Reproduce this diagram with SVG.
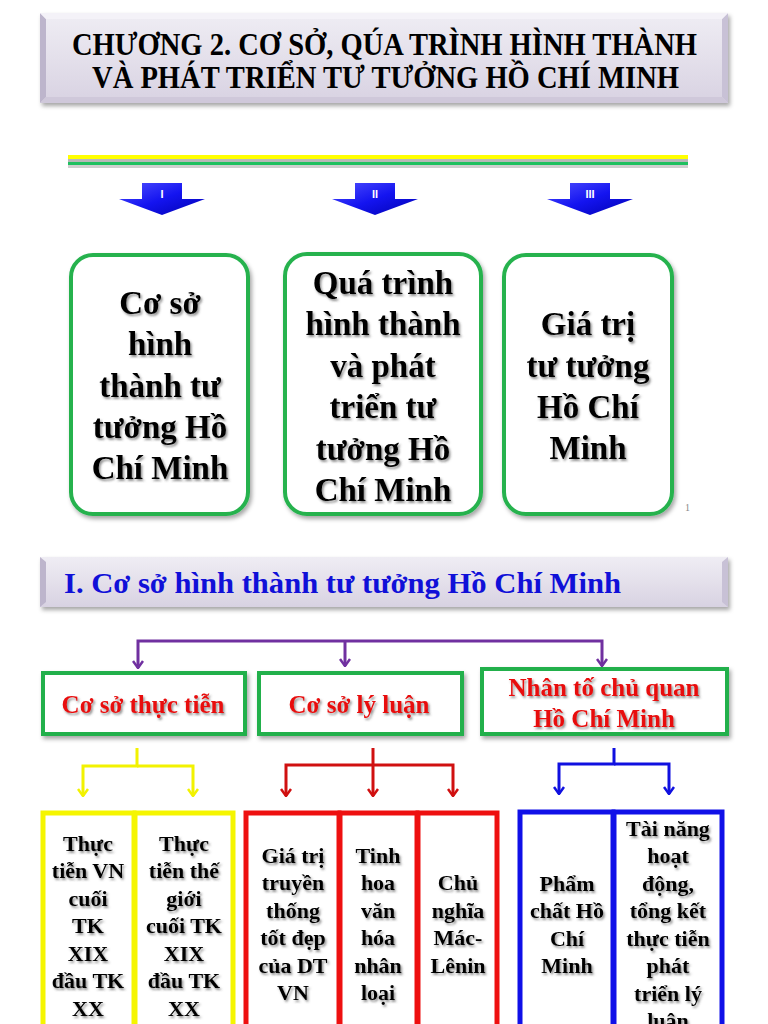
<svg xmlns="http://www.w3.org/2000/svg" width="768" height="1024" viewBox="0 0 768 1024">
<defs>
<linearGradient id="banner" x1="0" y1="0" x2="0" y2="1">
<stop offset="0" stop-color="#efedf4"/><stop offset="0.5" stop-color="#e4e0eb"/><stop offset="1" stop-color="#d8d2e2"/>
</linearGradient>
<linearGradient id="blueArrow" x1="0" y1="0" x2="1" y2="1">
<stop offset="0" stop-color="#5050ff"/><stop offset="0.5" stop-color="#1414f0"/><stop offset="1" stop-color="#0000b0"/>
</linearGradient>
<filter id="shadow" x="-10%" y="-10%" width="130%" height="130%">
<feDropShadow dx="2" dy="3" stdDeviation="2" flood-color="#000" flood-opacity="0.35"/>
</filter>
<filter id="tshadow" x="-10%" y="-10%" width="130%" height="130%">
<feDropShadow dx="1.5" dy="2" stdDeviation="1.2" flood-color="#444" flood-opacity="0.6"/>
</filter>
<marker id="mPurple" viewBox="0 0 12 12" refX="11" refY="6" markerWidth="12" markerHeight="12" markerUnits="userSpaceOnUse" orient="auto-start-reverse">
<path d="M4,1 L11,6 L4,11" fill="none" stroke="#7030a0" stroke-width="2.5"/>
</marker>
<marker id="mYellow" viewBox="0 0 12 12" refX="11" refY="6" markerWidth="12" markerHeight="12" markerUnits="userSpaceOnUse" orient="auto">
<path d="M4,1 L11,6 L4,11" fill="none" stroke="#f2f200" stroke-width="2.5"/>
</marker>
<marker id="mRed" viewBox="0 0 12 12" refX="11" refY="6" markerWidth="12" markerHeight="12" markerUnits="userSpaceOnUse" orient="auto">
<path d="M4,1 L11,6 L4,11" fill="none" stroke="#d01010" stroke-width="2.5"/>
</marker>
<marker id="mBlue" viewBox="0 0 12 12" refX="11" refY="6" markerWidth="12" markerHeight="12" markerUnits="userSpaceOnUse" orient="auto">
<path d="M4,1 L11,6 L4,11" fill="none" stroke="#1010e0" stroke-width="2.5"/>
</marker>
</defs>
<style>
text { font-family: "Liberation Serif", "Times New Roman", serif; font-weight: bold; }
.title { font-size: 31px; fill: #000; }
.big { font-size: 33px; fill: #000; text-anchor: middle; filter: url(#tshadow); }
.red { font-size: 25px; fill: #e81010; text-anchor: middle; filter: url(#tshadow); }
.small { font-size: 22px; fill: #000; text-anchor: middle; filter: url(#tshadow); }
.gbox { fill: #fff; stroke: #25b24e; stroke-width: 4; filter: url(#shadow); }
.arrowlbl { font-family: "Liberation Sans", Arial, sans-serif; font-size: 11px; fill: #fff; text-anchor: middle; }
</style>
<rect width="768" height="1024" fill="#fff"/>

<!-- Title banner -->
<g id="title">
<rect x="40" y="13" width="688" height="90" fill="url(#banner)" filter="url(#shadow)"/>
<polygon points="40,13 46,19 46,97 40,103" fill="#bdb5cc"/>
<polygon points="728,13 722,19 722,97 728,103" fill="#c8c1d6"/>
<polygon points="40,13 728,13 722,19 46,19" fill="#f4f2f8"/>
<polygon points="40,103 728,103 722,97 46,97" fill="#cfc8da"/>
<text class="title" x="72" y="55" textLength="625" lengthAdjust="spacingAndGlyphs">CHƯƠNG 2. CƠ SỞ, QÚA TRÌNH HÌNH THÀNH</text>
<text class="title" x="92" y="88" textLength="587" lengthAdjust="spacingAndGlyphs">VÀ PHÁT TRIỂN TƯ TƯỞNG HỒ CHÍ MINH</text>
</g>

<!-- Decorative lines -->
<g id="rule">
<rect x="68" y="165" width="620" height="3" fill="#888" opacity="0.4"/>
<rect x="68" y="155" width="620" height="4" fill="#ffff00"/>
<rect x="68" y="159" width="620" height="3" fill="#b8b8b8"/>
<rect x="68" y="162" width="620" height="3" fill="#1fc060"/>
</g>

<!-- Blue block arrows -->
<g id="arrow-I">
<polygon points="142,183 182,183 182,199 205,199 162,215 119,199 142,199" fill="url(#blueArrow)"/>
<text class="arrowlbl" x="162" y="198">I</text>
</g>
<g id="arrow-II">
<polygon points="355,183 395,183 395,199 418,199 375,215 332,199 355,199" fill="url(#blueArrow)"/>
<text class="arrowlbl" x="375" y="198">II</text>
</g>
<g id="arrow-III">
<polygon points="570,183 610,183 610,199 633,199 590,215 547,199 570,199" fill="url(#blueArrow)"/>
<text class="arrowlbl" x="590" y="198">III</text>
</g>

<!-- Top boxes -->
<g id="box-co-so">
<rect class="gbox" x="71" y="255" width="177" height="259" rx="22"/>
<text class="big" x="160" y="314">Cơ sở</text>
<text class="big" x="160" y="355">hình</text>
<text class="big" x="160" y="397">thành tư</text>
<text class="big" x="160" y="438">tưởng Hồ</text>
<text class="big" x="160" y="479">Chí Minh</text>
</g>
<g id="box-qua-trinh">
<rect class="gbox" x="285" y="254" width="196" height="260" rx="22"/>
<text class="big" x="383" y="294">Quá trình</text>
<text class="big" x="383" y="335">hình thành</text>
<text class="big" x="383" y="377">và phát</text>
<text class="big" x="383" y="418">triển tư</text>
<text class="big" x="383" y="460">tưởng Hồ</text>
<text class="big" x="383" y="501">Chí Minh</text>
</g>
<g id="box-gia-tri">
<rect class="gbox" x="504" y="255" width="168" height="259" rx="22"/>
<text class="big" x="588" y="335">Giá trị</text>
<text class="big" x="588" y="377">tư tưởng</text>
<text class="big" x="588" y="418">Hồ Chí</text>
<text class="big" x="588" y="459">Minh</text>
</g>
<text x="685" y="511" font-size="10" fill="#888" style="font-weight:normal">1</text>

<!-- Section banner -->
<g id="section">
<rect x="40" y="557" width="688" height="50" fill="url(#banner)" filter="url(#shadow)"/>
<polygon points="40,557 46,562 46,602 40,607" fill="#bdb5cc"/>
<polygon points="728,557 722,562 722,602 728,607" fill="#c8c1d6"/>
<text x="64" y="593" font-size="29" fill="#1010d8" textLength="557" lengthAdjust="spacingAndGlyphs">I. Cơ sở hình thành tư tưởng Hồ Chí Minh</text>
</g>

<!-- Connectors -->
<g id="connectors" fill="none" stroke-width="3">
<path d="M138,668 V641 H602 V666" stroke="#7030a0" marker-start="url(#mPurple)" marker-end="url(#mPurple)"/>
<path d="M345,641 V666" stroke="#7030a0" marker-end="url(#mPurple)"/>
<path d="M137,748 V766 H83 V796" stroke="#f2f200" marker-end="url(#mYellow)"/>
<path d="M137,766 H193 V796" stroke="#f2f200" marker-end="url(#mYellow)"/>
<path d="M373,748 V796" stroke="#d01010" marker-end="url(#mRed)"/>
<path d="M373,765 H286 V796" stroke="#d01010" marker-end="url(#mRed)"/>
<path d="M373,765 H453 V796" stroke="#d01010" marker-end="url(#mRed)"/>
<path d="M614,748 V764 H559 V794" stroke="#1010e0" marker-end="url(#mBlue)"/>
<path d="M614,764 H669 V794" stroke="#1010e0" marker-end="url(#mBlue)"/>
</g>

<!-- Second level boxes -->
<g id="box-thuc-tien">
<rect x="43" y="673" width="202" height="61" fill="#fff" stroke="#22b04c" stroke-width="4" filter="url(#shadow)"/>
<text class="red" x="143" y="713">Cơ sở thực tiễn</text>
</g>
<g id="box-ly-luan">
<rect x="259" y="673" width="203" height="61" fill="#fff" stroke="#22b04c" stroke-width="4" filter="url(#shadow)"/>
<text class="red" x="359" y="713">Cơ sở lý luận</text>
</g>
<g id="box-nhan-to">
<rect x="482" y="669" width="245" height="65" fill="#fff" stroke="#22b04c" stroke-width="4" filter="url(#shadow)"/>
<text class="red" x="604" y="696">Nhân tố chủ quan</text>
<text class="red" x="604" y="727">Hồ Chí Minh</text>
</g>

<!-- Third level: yellow -->
<g id="box-vn">
<rect x="43" y="813" width="91" height="230" fill="#fff" stroke="#f5f500" stroke-width="5"/>
<text class="small" x="88" y="851">Thực</text>
<text class="small" x="88" y="878">tiễn VN</text>
<text class="small" x="88" y="906">cuối</text>
<text class="small" x="88" y="933">TK</text>
<text class="small" x="88" y="961">XIX</text>
<text class="small" x="88" y="988">đầu TK</text>
<text class="small" x="88" y="1016">XX</text>
</g>
<g id="box-the-gioi">
<rect x="135" y="813" width="98" height="230" fill="#fff" stroke="#f5f500" stroke-width="5"/>
<text class="small" x="184" y="851">Thực</text>
<text class="small" x="184" y="878">tiễn thế</text>
<text class="small" x="184" y="906">giới</text>
<text class="small" x="184" y="933">cuối TK</text>
<text class="small" x="184" y="961">XIX</text>
<text class="small" x="184" y="988">đầu TK</text>
<text class="small" x="184" y="1016">XX</text>
</g>

<!-- Third level: red -->
<g id="box-truyen-thong">
<rect x="246" y="813" width="93" height="230" fill="#fff" stroke="#ee1010" stroke-width="5"/>
<text class="small" x="293" y="863">Giá trị</text>
<text class="small" x="293" y="890">truyền</text>
<text class="small" x="293" y="918">thống</text>
<text class="small" x="293" y="945">tốt đẹp</text>
<text class="small" x="293" y="973">của DT</text>
<text class="small" x="293" y="1000">VN</text>
</g>
<g id="box-tinh-hoa">
<rect x="340" y="813" width="77" height="230" fill="#fff" stroke="#ee1010" stroke-width="5"/>
<text class="small" x="378" y="863">Tinh</text>
<text class="small" x="378" y="890">hoa</text>
<text class="small" x="378" y="918">văn</text>
<text class="small" x="378" y="945">hóa</text>
<text class="small" x="378" y="973">nhân</text>
<text class="small" x="378" y="1000">loại</text>
</g>
<g id="box-mac-lenin">
<rect x="418" y="813" width="79" height="230" fill="#fff" stroke="#ee1010" stroke-width="5"/>
<text class="small" x="458" y="890">Chủ</text>
<text class="small" x="458" y="918">nghĩa</text>
<text class="small" x="458" y="945">Mác-</text>
<text class="small" x="458" y="973">Lênin</text>
</g>

<!-- Third level: blue -->
<g id="box-pham-chat">
<rect x="520" y="812" width="93" height="230" fill="#fff" stroke="#1010e8" stroke-width="5"/>
<text class="small" x="567" y="891">Phẩm</text>
<text class="small" x="567" y="918">chất Hồ</text>
<text class="small" x="567" y="946">Chí</text>
<text class="small" x="567" y="973">Minh</text>
</g>
<g id="box-tai-nang">
<rect x="614" y="812" width="108" height="230" fill="#fff" stroke="#1010e8" stroke-width="5"/>
<text class="small" x="668" y="836">Tài năng</text>
<text class="small" x="668" y="863">hoạt</text>
<text class="small" x="668" y="891">động,</text>
<text class="small" x="668" y="918">tổng kết</text>
<text class="small" x="668" y="946">thực tiễn</text>
<text class="small" x="668" y="973">phát</text>
<text class="small" x="668" y="1001">triển lý</text>
<text class="small" x="668" y="1028">luận</text>
</g>
</svg>
